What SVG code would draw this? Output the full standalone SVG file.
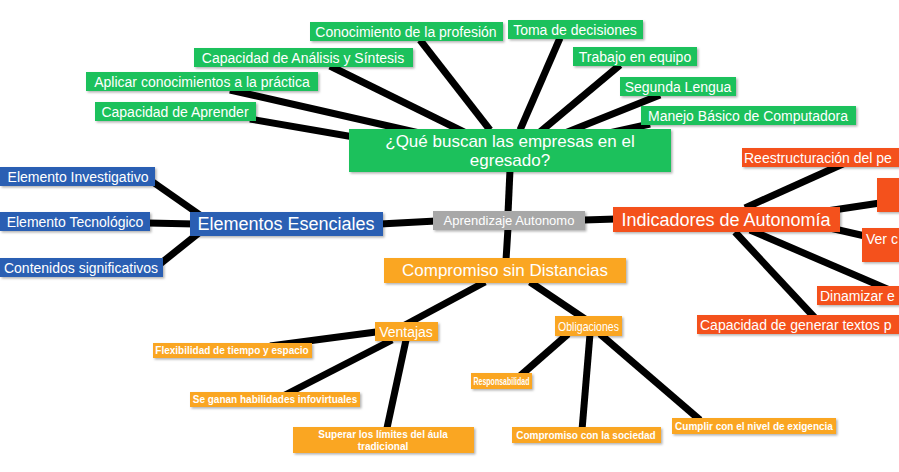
<svg xmlns="http://www.w3.org/2000/svg" width="899" height="472" viewBox="0 0 899 472">
<defs>
<filter id="sh" x="-10%" y="-20%" width="130%" height="160%"><feDropShadow dx="1.5" dy="1.5" stdDeviation="1" flood-color="#000" flood-opacity="0.3"/></filter>
<style>
text{font-family:"Liberation Sans",Arial,sans-serif;fill:#fff;text-anchor:middle;dominant-baseline:central}
.g{fill:#1fc15b;filter:url(#sh)}
.b{fill:#2b5fb3;filter:url(#sh)}
.r{fill:#f4511e;filter:url(#sh)}
.o{fill:#faa624;filter:url(#sh)}
.gr{fill:#a8a8a8;filter:url(#sh)}
.t14{font-size:14px}
.t10{font-size:10px;font-weight:bold}
#connectors line{stroke:#000;stroke-width:7;stroke-linecap:butt}
</style>
</defs>
<rect width="899" height="472" fill="#fff"/>
<g id="connectors">
<line x1="420" y1="40" x2="490" y2="130"/>
<line x1="560" y1="38" x2="520" y2="130"/>
<line x1="330" y1="66" x2="470" y2="135"/>
<line x1="620" y1="65" x2="540" y2="132"/>
<line x1="230" y1="90" x2="450" y2="140"/>
<line x1="660" y1="95" x2="560" y2="135"/>
<line x1="250" y1="119" x2="400" y2="145"/>
<line x1="650" y1="124" x2="600" y2="135"/>
<line x1="510" y1="170" x2="508" y2="213"/>
<line x1="380" y1="224" x2="436" y2="221"/>
<line x1="584" y1="220" x2="616" y2="219"/>
<line x1="508" y1="228" x2="506" y2="260"/>
<line x1="200" y1="215" x2="150" y2="180"/>
<line x1="195" y1="224" x2="148" y2="223"/>
<line x1="200" y1="232" x2="160" y2="264"/>
<line x1="485" y1="282" x2="405" y2="325"/>
<line x1="530" y1="282" x2="585" y2="319"/>
<line x1="376" y1="332" x2="270" y2="346"/>
<line x1="392" y1="340" x2="285" y2="395"/>
<line x1="406" y1="340" x2="387" y2="428"/>
<line x1="568" y1="334" x2="520" y2="376"/>
<line x1="590" y1="334" x2="582" y2="430"/>
<line x1="600" y1="334" x2="700" y2="420"/>
<line x1="745" y1="208" x2="845" y2="163"/>
<line x1="820" y1="212" x2="880" y2="203"/>
<line x1="830" y1="228" x2="865" y2="236"/>
<line x1="750" y1="230" x2="899" y2="294"/>
<line x1="735" y1="232" x2="815" y2="318"/>
</g>
<g id="n-conocimiento"><rect class="g" x="310" y="22" width="193" height="19"/><text class="t14" x="406" y="31.5">Conocimiento de la profesión</text></g>
<g id="n-toma"><rect class="g" x="508" y="20" width="135" height="19"/><text class="t14" x="575" y="29.5">Toma de decisiones</text></g>
<g id="n-analisis"><rect class="g" x="194" y="48" width="219" height="19"/><text class="t14" x="303" y="57.5">Capacidad de Análisis y Síntesis</text></g>
<g id="n-trabajo"><rect class="g" x="573" y="47" width="124" height="19"/><text class="t14" x="635" y="56.5">Trabajo en equipo</text></g>
<g id="n-aplicar"><rect class="g" x="86" y="72" width="232" height="19"/><text class="t14" x="202" y="81.5">Aplicar conocimientos a la práctica</text></g>
<g id="n-segunda"><rect class="g" x="620" y="77" width="116" height="19"/><text class="t14" x="678" y="86.5">Segunda Lengua</text></g>
<g id="n-aprender"><rect class="g" x="95" y="102" width="161" height="19"/><text class="t14" x="175" y="111.5">Capacidad de Aprender</text></g>
<g id="n-manejo"><rect class="g" x="641" y="106" width="215" height="19"/><text class="t14" x="748" y="115.5">Manejo Básico de Computadora</text></g>
<g id="n-central"><rect class="g" x="349" y="129" width="322" height="43"/><text x="510" y="141" font-size="17">¿Qué buscan las empresas en el</text><text x="510" y="160" font-size="17">egresado?</text></g>
<g id="n-aprendizaje"><rect class="gr" x="433" y="211" width="152" height="19"/><text x="509" y="220.5" font-size="13">Aprendizaje Autonomo</text></g>
<g id="n-elementos"><rect class="b" x="190" y="212" width="193" height="24"/><text x="286" y="224" font-size="18">Elementos Esenciales</text></g>
<g id="n-investigativo"><rect class="b" x="0" y="167" width="155" height="19"/><text class="t14" x="78" y="176.5">Elemento Investigativo</text></g>
<g id="n-tecnologico"><rect class="b" x="0" y="212" width="150" height="19"/><text class="t14" x="75" y="221.5">Elemento Tecnológico</text></g>
<g id="n-contenidos"><rect class="b" x="0" y="258" width="163" height="19"/><text class="t14" x="81" y="267.5">Contenidos significativos</text></g>
<g id="n-indicadores"><rect class="r" x="613" y="207" width="227" height="25"/><text x="726" y="219.5" font-size="18">Indicadores de Autonomía</text></g>
<g id="n-reestructuracion"><rect class="r" x="742" y="148" width="160" height="19"/><text class="t14" x="744" y="157.5" style="text-anchor:start">Reestructuración del pe</text></g>
<g id="n-box"><rect class="r" x="877" y="178" width="25" height="34"/></g>
<g id="n-ver"><rect class="r" x="862" y="228" width="40" height="34"/><text class="t14" x="866" y="239" style="text-anchor:start">Ver c</text></g>
<g id="n-dinamizar"><rect class="r" x="817" y="286" width="85" height="19"/><text class="t14" x="820" y="295.5" style="text-anchor:start">Dinamizar e</text></g>
<g id="n-capacidad-textos"><rect class="r" x="697" y="315" width="205" height="19"/><text class="t14" x="700" y="324.5" style="text-anchor:start">Capacidad de generar textos p</text></g>
<g id="n-compromiso"><rect class="o" x="384" y="258" width="242" height="25"/><text x="505" y="270.5" font-size="17">Compromiso sin Distancias</text></g>
<g id="n-ventajas"><rect class="o" x="375" y="322" width="63" height="19"/><text class="t14" x="406" y="331.5">Ventajas</text></g>
<g id="n-obligaciones"><rect class="o" x="555" y="316" width="67" height="20"/><text x="588.5" y="326" font-size="13" textLength="61" lengthAdjust="spacingAndGlyphs">Obligaciones</text></g>
<g id="n-flex"><rect class="o" x="153" y="343" width="159" height="15"/><text class="t10" x="232" y="350.5">Flexibilidad de tiempo y espacio</text></g>
<g id="n-seganan"><rect class="o" x="190" y="392" width="170" height="15"/><text class="t10" x="275" y="399.5">Se ganan habilidades infovirtuales</text></g>
<g id="n-superar"><rect class="o" x="293" y="427" width="181" height="26"/><text class="t10" x="383" y="434">Superar los límites del áula</text><text class="t10" x="383" y="446">tradicional</text></g>
<g id="n-responsabilidad"><rect class="o" x="471" y="373" width="61" height="16"/><text class="t10" x="501.5" y="381" textLength="56" lengthAdjust="spacingAndGlyphs">Responsabilidad</text></g>
<g id="n-sociedad"><rect class="o" x="512" y="427" width="149" height="16"/><text class="t10" x="586" y="435">Compromiso con la sociedad</text></g>
<g id="n-cumplir"><rect class="o" x="672" y="418" width="164" height="16"/><text class="t10" x="754" y="426">Cumplir con el nivel de exigencia</text></g>
</svg>
